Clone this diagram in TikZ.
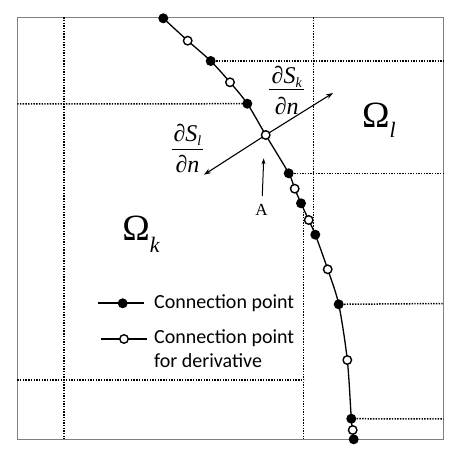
\documentclass[tikz,border=0pt]{standalone}
\usepackage{fontspec}
\setmainfont{Liberation Serif}
\newfontfamily\legfont{Carlito}
\usetikzlibrary{arrows.meta}
\begin{document}
\begin{tikzpicture}[x=1pt,y=-1pt,
  fillpt/.style={circle,fill=black,inner sep=0pt,minimum size=10pt},
  openpt/.style={circle,draw=black,fill=white,line width=1.4pt,inner sep=0pt,minimum size=8.5pt},
  gridln/.style={line width=1.5pt,dash pattern=on 1.4pt off 1.3pt},
  curveln/.style={line width=1.3pt},
  arr/.style={line width=1.1pt,-{Stealth[length=7pt,width=5pt]}},
  frac/.style={font=\fontsize{24}{26}\selectfont\itshape,inner sep=0pt},
  omega/.style={font=\fontsize{37}{40}\selectfont,inner sep=0pt},
  leg/.style={font=\legfont\fontsize{20}{24}\selectfont,anchor=base west,inner sep=0pt}]
\useasboundingbox (0,0) rectangle (474,462);
% frame
\draw[line width=1pt,color=black!50] (17.3,17.3) rectangle (443.3,439.3);
% curve points
\coordinate (c1) at (163.3,18.3);
\coordinate (c2) at (187.7,40.7);
\coordinate (c3) at (210.7,61);
\coordinate (c4) at (230,82.3);
\coordinate (c5) at (247.3,103.7);
\coordinate (c6) at (265.7,135);
\coordinate (c7) at (288.7,173.3);
\coordinate (c8) at (294.7,188.7);
\coordinate (c9) at (301,203.3);
\coordinate (c10) at (308.7,220);
\coordinate (c11) at (315.3,234.7);
\coordinate (c12) at (327.7,269.3);
\coordinate (c13) at (338.7,304.3);
\coordinate (c14) at (347.3,360);
\coordinate (c15) at (351.3,418.7);
\coordinate (c16) at (352.7,430);
\coordinate (c17) at (353.7,439.3);
% grid edge coordinates
\coordinate (vLt) at (64,17.3);
\coordinate (vLb) at (64,439.3);
\coordinate (vRt) at (313.5,17.3);
\coordinate (vMb) at (303.5,439.3);
\coordinate (h1r) at (443.3,61);
\coordinate (h2l) at (17.3,104);
\coordinate (h3r) at (443.3,173.3);
\coordinate (h4r) at (443.3,303.5);
\coordinate (h5l) at (17.3,380);
\coordinate (h5r) at (303.5,380);
\coordinate (h6r) at (443.3,419);
% dotted grid
\draw[gridln] (vLt) -- (vLb);
\draw[gridln] (vRt) -- (vRt |- c11) -- (c11);
\draw[gridln] (c9) -- (vMb |- c9) -- (vMb);
\draw[gridln] (c3) -- (h1r);
\draw[gridln] (h2l) -- (c5);
\draw[gridln] (c7) -- (h3r);
\draw[gridln] (c13) -- (h4r);
\draw[gridln] (h5l) -- (h5r);
\draw[gridln] (c15) -- (h6r);
% curve
\draw[curveln] plot[smooth,tension=0.5] coordinates {(c1) (c2) (c3) (c4) (c5) (c6) (c7) (c8) (c9) (c10) (c11) (c12) (c13) (c14) (c15) (c16) (c17)};
% normal arrows
\coordinate (nR) at (333,93);
\coordinate (nL) at (204,174.7);
\draw[arr] (c6) -- (nR);
\draw[arr] (c6) -- (nL);
% markers
\foreach \i in {1,3,5,7,9,11,13,15,17} \node[fillpt] (m\i) at (c\i) {};
\foreach \i in {2,4,6,8,10,12,14,16} \node[openpt] (m\i) at (c\i) {};
% A label
\node[font=\fontsize{17}{19}\selectfont,inner sep=0pt] (Alab) at (261.5,209.5) {A};
\coordinate (Atip) at (263.7,158.3);
\draw[line width=1pt,-{Stealth[length=6pt,width=4pt]}] (262.3,196) -- (Atip);
% fractions
\node[frac] (fkn) at (286.7,77) {∂S\raisebox{-4pt}{\fontsize{14}{14}\selectfont k}};
\node[frac] (fkd) at (286.7,106.5) {∂n};
\draw[line width=0.9pt] (269,89.5) -- (304,89.5);
\node[frac] (fln) at (187.5,134.5) {∂S\raisebox{-4pt}{\fontsize{14}{14}\selectfont l}};
\node[frac] (fld) at (187.5,164.5) {∂n};
\draw[line width=0.9pt] (171.7,149.3) -- (203.3,149.3);
% Omegas
\node[omega] (Ok) at (141,234) {Ω\raisebox{-12pt}{\fontsize{22}{22}\selectfont\itshape k}};
\node[omega] (Ol) at (379,120) {Ω\raisebox{-10pt}{\fontsize{22}{22}\selectfont\itshape l}};
% legend
\coordinate (l1a) at (98.3,303.3);
\coordinate (l1b) at (144,303.3);
\coordinate (l2a) at (100.7,339);
\coordinate (l2b) at (146.7,339);
\draw[line width=1.8pt] (l1a) -- (l1b);
\draw[line width=1.8pt] (l2a) -- (l2b);
\node[fillpt] (lg1) at (122.7,303.3) {};
\node[openpt] (lg2) at (124,339) {};
\node[leg] (t1) at (154,308.5) {Connection point};
\node[leg] (t2) at (154,343.5) {Connection point};
\node[leg] (t3) at (154,367.5) {for derivative};
\end{tikzpicture}
\end{document}
